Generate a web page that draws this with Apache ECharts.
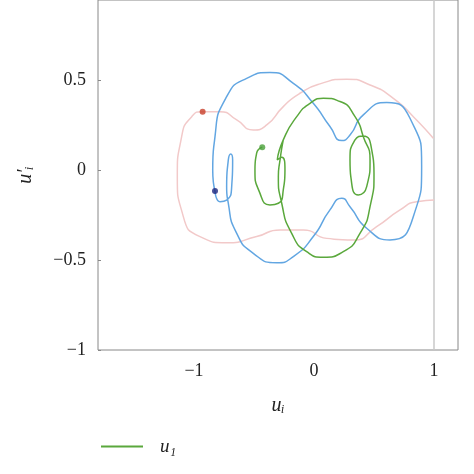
<!DOCTYPE html>
<html><head><meta charset="utf-8">
<script src="https://cdn.jsdelivr.net/npm/echarts@6/dist/echarts.min.js"></script>
<style>html,body{margin:0;padding:0;background:#fff}#c{width:474px;height:474px}</style>
</head><body><div id="c"></div>
<script>
// trajectories as [u, u']
var u1 = [[-0.431,0.126],[-0.478,0.093],[-0.492,0],[-0.45,-0.13],[-0.367,-0.194],[-0.297,-0.185],
  [-0.256,-0.111],[-0.242,0],[-0.269,0.07],[-0.306,0.056],[-0.256,0.167],[-0.144,0.296],[-0.033,0.37],
  [0.078,0.398],[0.217,0.38],[0.342,0.296],[0.411,0.185],[0.467,0.056],[0.439,-0.093],[0.369,-0.139],
  [0.314,-0.074],[0.3,0.056],[0.342,0.167],[0.411,0.189],[0.481,0.111],[0.5,-0.019],[0.467,-0.204],
  [0.383,-0.352],[0.244,-0.454],[0.078,-0.485],[-0.061,-0.454],[-0.186,-0.352],[-0.269,-0.185],
  [-0.297,-0.037],[-0.283,0.056],[-0.256,0.167]];
var u2 = [[-0.825,-0.117],[-0.844,0],[-0.825,0.185],[-0.728,0.407],[-0.561,0.509],[-0.367,0.541],
  [-0.172,0.481],[-0.006,0.37],[0.133,0.241],[0.231,0.163],[0.3,0.194],[0.411,0.306],[0.606,0.374],
  [0.8,0.287],[0.897,0.019],[0.828,-0.259],[0.633,-0.389],[0.439,-0.324],[0.3,-0.204],[0.231,-0.157],
  [0.133,-0.222],[-0.006,-0.37],[-0.172,-0.481],[-0.311,-0.515],[-0.506,-0.463],[-0.644,-0.352],
  [-0.714,-0.185],[-0.728,-0.093],[-0.714,0.056],[-0.694,0.089],[-0.678,0.056],[-0.686,-0.093],
  [-0.728,-0.167],[-0.783,-0.176],[-0.825,-0.117]];
var u3 = [[1.0,-0.167],[0.856,-0.176],[0.717,-0.222],[0.522,-0.315],[0.328,-0.389],[0.106,-0.38],
  [-0.089,-0.333],[-0.283,-0.333],[-0.478,-0.37],[-0.728,-0.404],[-0.95,-0.37],[-1.089,-0.259],
  [-1.139,-0.037],[-1.103,0.185],[-1.019,0.296],[-0.928,0.324],[-0.783,0.324],[-0.644,0.278],
  [-0.506,0.222],[-0.394,0.25],[-0.256,0.352],[-0.117,0.426],[0.05,0.478],[0.272,0.504],
  [0.467,0.472],[0.661,0.398],[0.828,0.296],[0.994,0.176]];
var wall = [[1,-1],[1,0.944]];
var starts = [[-0.431,0.126],[-0.825,-0.117],[-0.928,0.324]];
var xTicks = [-1, 0, 1];

var serif = '"Liberation Serif","DejaVu Serif",serif';
function fmt(v){ return String(v).replace('-', '\u2212'); }
var chart = echarts.init(document.getElementById('c'));
chart.setOption({
  animation: false,
  grid: {left: 98, right: 16, top: 0, bottom: 124, show: true, borderColor: '#888', borderWidth: 1},
  legend: {
    orient: 'vertical', left: 96, top: 432, height: 120, itemWidth: 42, itemHeight: 2, itemGap: 12,
    data: ['u\u2081', 'u\u2082'], icon: 'rect',
    textStyle: {fontFamily: serif, fontStyle: 'italic', fontSize: 19, color: '#222', padding: [0,0,0,12]}
  },
  xAxis: {
    type: 'value', min: -1.8, max: 1.2, interval: 0.2,
    axisLine: {show: false, onZero: false}, splitLine: {show: false}, axisTick: {show: false},
    axisLabel: {fontFamily: serif, fontSize: 18, color: '#222', margin: 12,
      formatter: function(v){ var r = Math.round(v*10)/10; return xTicks.indexOf(r) >= 0 ? fmt(r) : ''; }},
    name: 'u\u1d62', nameLocation: 'middle', nameGap: 46,
    nameTextStyle: {fontFamily: serif, fontStyle: 'italic', fontSize: 20, color: '#222'}
  },
  yAxis: {
    type: 'value', min: -1, max: 0.944, interval: 0.5,
    axisLine: {show: false, onZero: false}, splitLine: {show: false},
    axisTick: {show: true, inside: true, length: 3, lineStyle: {color: '#888'}},
    axisLabel: {fontFamily: serif, fontSize: 18, color: '#222', margin: 12, showMaxLabel: false, formatter: fmt},
    name: 'u\u2032\u1d62', nameLocation: 'middle', nameGap: 62,
    nameTextStyle: {fontFamily: serif, fontStyle: 'italic', fontSize: 20, color: '#222'}
  },
  series: [
    {name: 'wall', type: 'line', data: wall, symbol: 'none', lineStyle: {color: '#c8c8c8', width: 1.5}},
    {name: 'u\u2083', type: 'line', data: u3, smooth: 0.6, symbol: 'none', lineStyle: {color: '#f2c9c9', width: 1.5}},
    {name: 'u\u2082', type: 'line', data: u2, smooth: 0.6, symbol: 'none', itemStyle: {color: '#cfe2f5'}, lineStyle: {color: '#62a6e2', width: 1.5}},
    {name: 'u\u2081', type: 'line', data: u1, smooth: 0.6, symbol: 'none', itemStyle: {color: '#5aa83c'}, lineStyle: {color: '#5aa83c', width: 1.5}},
    {type: 'scatter', symbolSize: 6, z: 5,
      data: [{value: starts[0], itemStyle: {color: '#4aa03a'}},
             {value: starts[1], itemStyle: {color: '#1c2680'}},
             {value: starts[2], itemStyle: {color: '#c8402a'}}]}
  ]
});
</script></body></html>
